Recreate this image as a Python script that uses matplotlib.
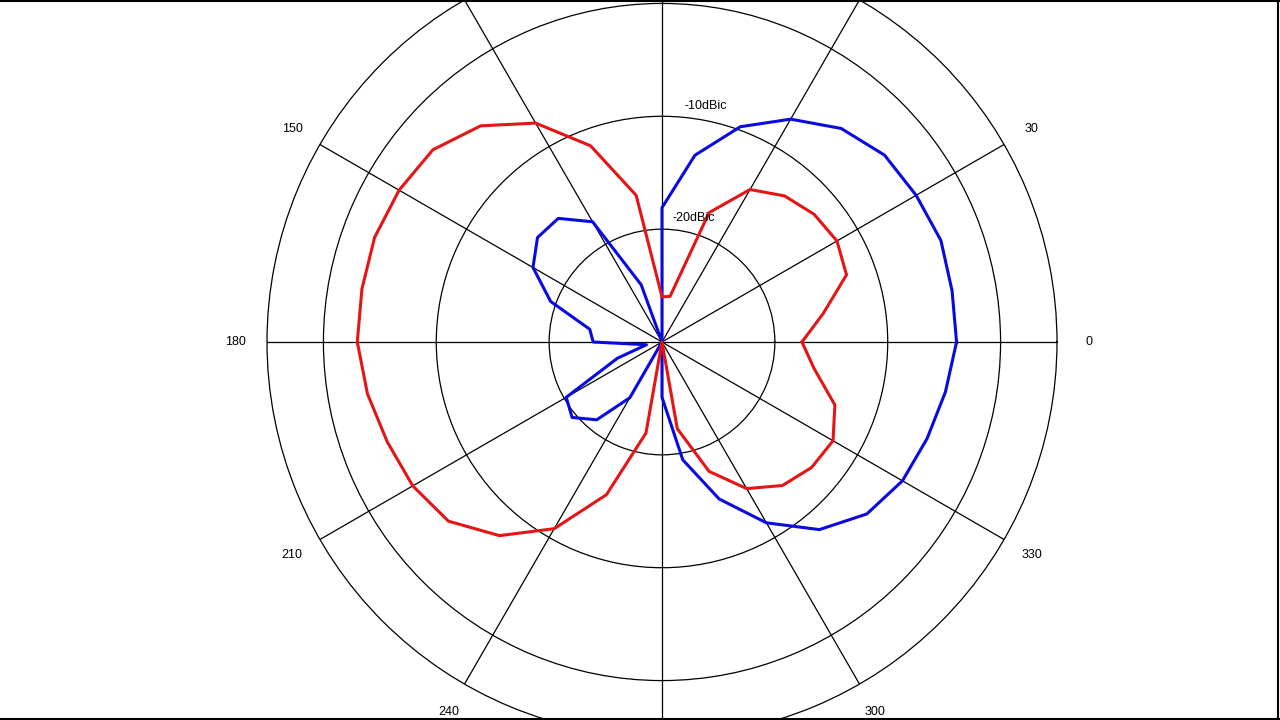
import numpy as np
import matplotlib
matplotlib.use("Agg")
import matplotlib.pyplot as plt
from matplotlib.lines import Line2D

# Angles in degrees (0 = right, counter-clockwise)
angles_deg = list(range(0, 360, 10))

# Blue pattern (dBic), values at or below -30 sit at the centre
blue_db = [-3.9, -3.9, -3.7, -4.0, -4.25, -5.3, -7.2, -9.7, -13.2, -18.1,
           -30.0, -24.6, -17.7, -15.7, -15.6, -16.8, -19.5, -23.5,
           -23.9, -28.6, -25.8, -20.2, -19.6, -21.0, -24.3, -30.0, -30.0,
           -25.1, -19.4, -15.2, -11.5, -8.3, -6.3, -5.4, -5.0, -4.5]

# Red pattern (dBic)
red_db = [-17.6, -15.5, -12.6, -12.1, -12.4, -13.1, -14.4, -17.8, -25.9, -26.0,
          -16.8, -11.5, -7.6, -5.0, -3.5, -3.1, -2.9, -3.0,
          -3.0, -3.5, -4.1, -4.5, -5.3, -7.6, -10.9, -15.6, -21.8,
          -30.0, -22.2, -17.8, -15.0, -13.4, -12.7, -12.5, -13.7, -16.3]

theta_ticks = list(range(0, 360, 30))
# labels at 60, 90, 120 and 270 fall outside the visible picture
theta_labels = ["0", "30", "", "", "", "150", "180", "210", "240", "", "300", "330"]
r_rings = [-20, -10, 0]
ring_labels = {-10: "-10dBic", -20: "-20dBic"}
r_min, r_max = -30, 5

plt.rcParams['font.family'] = ['Liberation Sans', 'DejaVu Sans']

fig = plt.figure(figsize=(12.8, 7.2), dpi=100)
fig.patch.set_facecolor('white')
W, H = 1280, 720
cx, cy, R = 662, 342, 395
ax = fig.add_axes([(cx - R) / W, (H - cy - R) / H, 2 * R / W, 2 * R / H],
                  projection='polar')
ax.set_facecolor('white')
ax.set_ylim(r_min, r_max)
ax.set_rticks(r_rings)
ax.set_yticklabels([])
ax.set_thetagrids(theta_ticks, theta_labels, fontsize=9)
ax.tick_params(axis='x', pad=12.5, colors='black')
ax.grid(True, color='black', linewidth=0.9, linestyle='-')
ax.spines['polar'].set_color('black')
ax.spines['polar'].set_linewidth(0.9)

th = np.deg2rad(angles_deg + [angles_deg[0]])
ax.plot(th, blue_db + [blue_db[0]], color='#0a0ae0', linewidth=2.2, zorder=5)
ax.plot(th, red_db + [red_db[0]], color='#e51515', linewidth=2.2, zorder=6)

for rv, lab in ring_labels.items():
    off = (44, 10) if rv == -10 else (32, 11)
    ax.annotate(lab, xy=(np.pi / 2, rv), xytext=off, textcoords='offset pixels',
                ha='center', va='center', fontsize=9, color='black', zorder=7)

# thin frame on top, right and bottom edges
for xs, ys in [([0, 1], [0.9993, 0.9993]), ([0.9985, 0.9985], [0, 1]),
               ([0, 1], [0.0014, 0.0014])]:
    fig.add_artist(Line2D(xs, ys, color='black', linewidth=1.5,
                          transform=fig.transFigure))

fig.savefig('out.png', dpi=100, facecolor='white')
